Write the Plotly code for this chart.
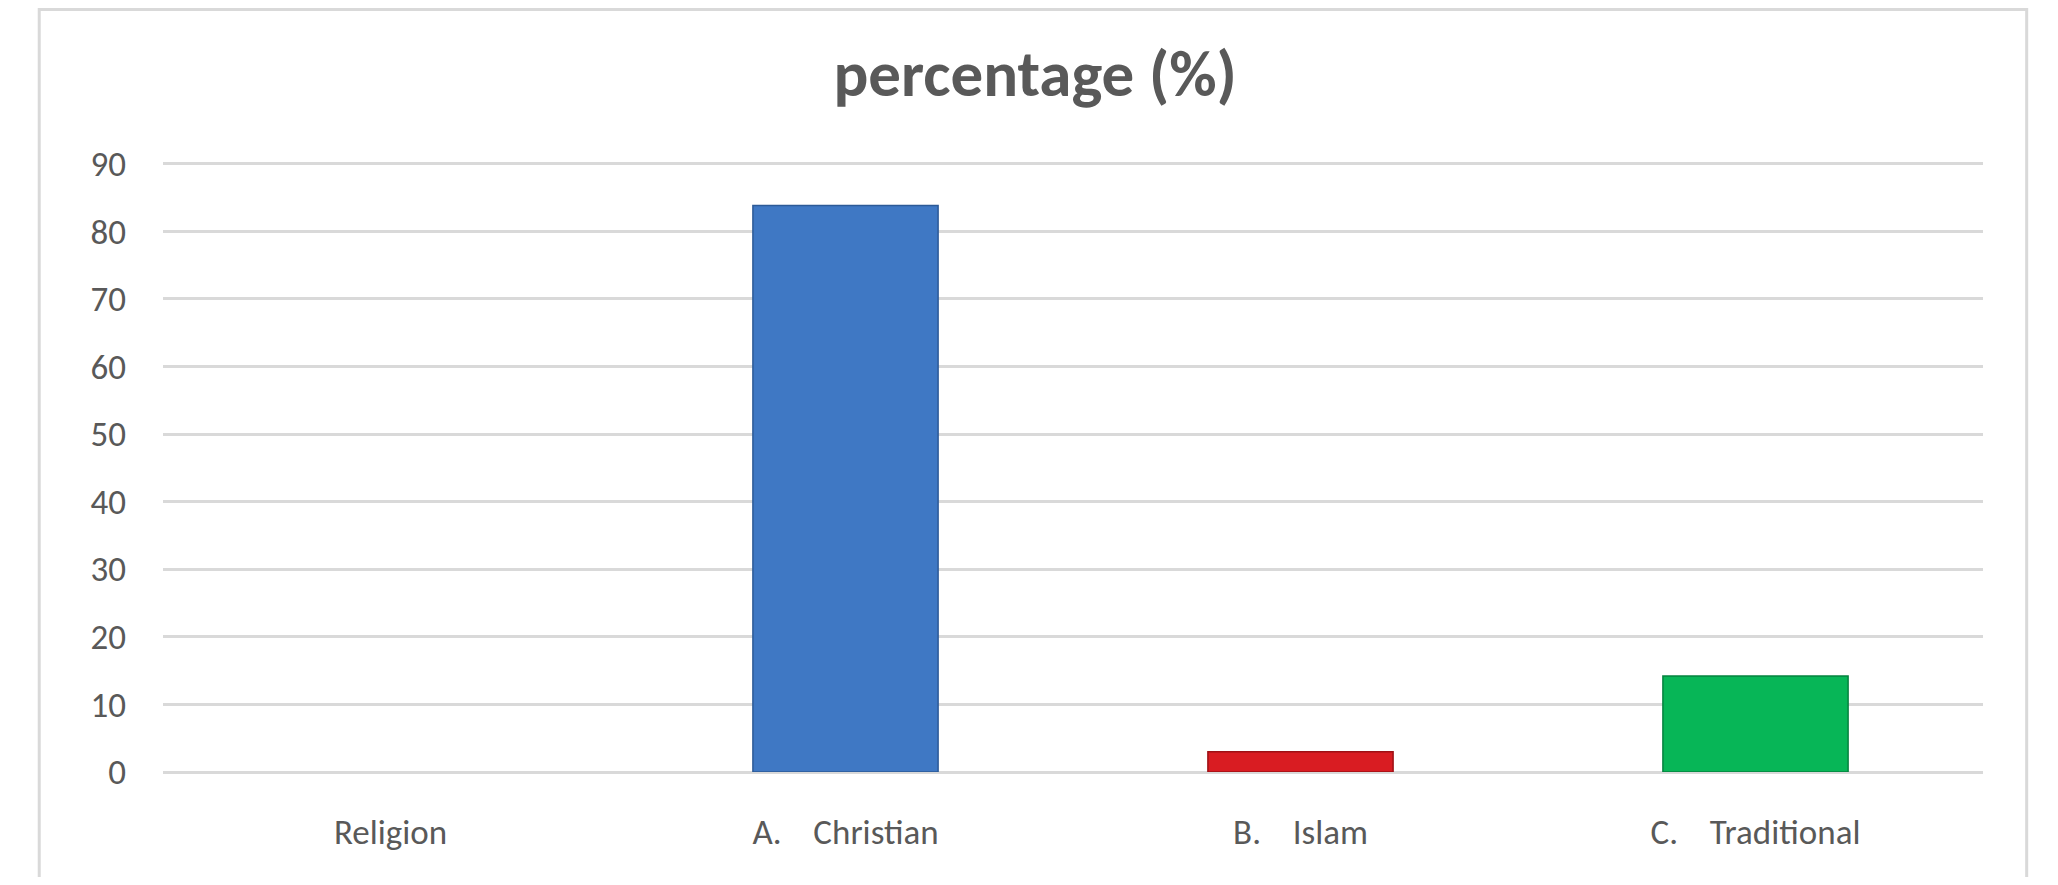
import plotly.graph_objects as go

categories = ["Religion", "A.\u00a0\u00a0\u00a0\u00a0Christian", "B.\u00a0\u00a0\u00a0\u00a0Islam", "C.\u00a0\u00a0\u00a0\u00a0Traditional"]
percentage = [None, 83.8, 3.0, 14.2]
bar_colors = ["#3f78c4", "#3f78c4", "#d91c22", "#07b657"]
edge_colors = ["#2c5a97", "#2c5a97", "#9e1015", "#05823f"]
y_ticks = [0, 10, 20, 30, 40, 50, 60, 70, 80, 90]

font_family = "Calibri, Carlito, Lato, sans-serif"
grey_text = "#595959"
grid_grey = "#d9d9d9"

fig = go.Figure()
fig.add_trace(go.Bar(
    x=categories,
    y=percentage,
    marker=dict(color=bar_colors, line=dict(color=edge_colors, width=1.5)),
    showlegend=False,
    hoverinfo="x+y",
))

# page body has an 8px margin, so the figure is a bit smaller than the window
fig.update_layout(
    width=2042,
    height=869,
    margin=dict(l=155, r=67, t=153, b=105),
    paper_bgcolor="white",
    plot_bgcolor="white",
    bargap=0.593,
    title=dict(
        text="<b>percentage (%)</b>",
        x=0.503, xref="container", xanchor="center",
        y=0.925, yref="container", yanchor="middle",
        font=dict(family=font_family, size=65, color=grey_text),
    ),
    font=dict(family=font_family, color=grey_text),
    xaxis=dict(
        showgrid=False,
        showline=False,
        zeroline=False,
        tickfont=dict(size=35, color=grey_text),
        ticklabelstandoff=36,
    ),
    yaxis=dict(
        range=[0, 90.4],
        tickvals=y_ticks,
        showgrid=True,
        gridcolor=grid_grey,
        gridwidth=2.5,
        zeroline=True,
        zerolinecolor=grid_grey,
        zerolinewidth=2.5,
        showline=False,
        tickfont=dict(size=35, color=grey_text),
        ticklabelstandoff=36,
    ),
    # light outer frame of the chart area
    shapes=[dict(
        type="rect", xref="paper", yref="paper",
        x0=-0.068, x1=1.024, y0=-0.3, y1=1.248,
        line=dict(color=grid_grey, width=3),
        fillcolor="rgba(0,0,0,0)", layer="below",
    )],
)

fig.write_html("out.html")
